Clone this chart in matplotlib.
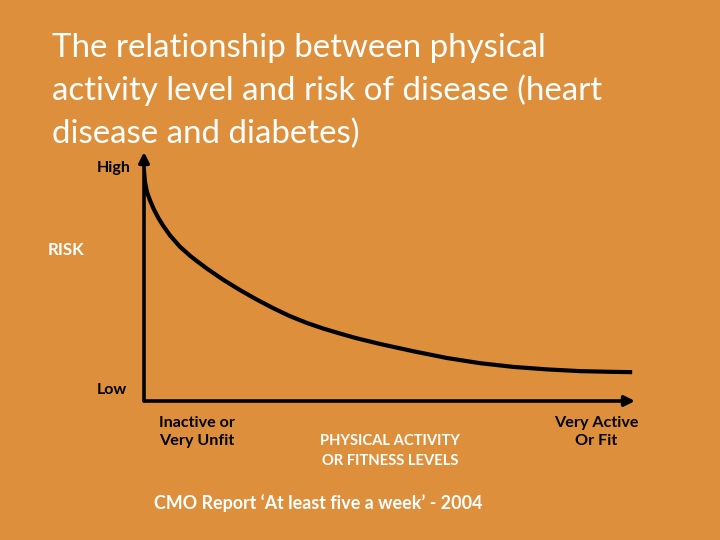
import matplotlib.pyplot as plt
import numpy as np

# curve (activity 0-100, risk 0-100)
activity = [0, 0.2, 0.6, 1.2, 2.0, 2.9, 3.9, 5.3, 7.3, 9.4, 10.7, 12.8, 16.2, 19.6,
            23.0, 26.3, 29.7, 33.1, 36.5, 39.9, 43.3, 48.1, 54.8, 61.6, 68.4, 75.2,
            82.0, 88.8, 95.6, 99.0]
risk = [92.4, 88.0, 84.0, 80.7, 77.0, 73.6, 70.4, 66.5, 62.0, 58.3, 56.3, 53.2, 48.6, 44.5,
        40.7, 37.3, 34.1, 31.4, 29.1, 27.1, 25.2, 22.9, 20.0, 17.3, 15.2, 13.7,
        12.7, 12.0, 11.7, 11.6]

title_lines = ["The relationship between physical",
               "activity level and risk of disease (heart",
               "disease and diabetes)"]

bg = "#DE8F3B"
W, H = 720, 540

plt.rcParams["font.family"] = ["Lato", "DejaVu Sans"]

fig = plt.figure(figsize=(7.2, 5.4), dpi=100, facecolor=bg)


def fx(px):
    return px / W


def fy(py):
    return 1 - py / H


# axes box in pixels: left 144, right 635, bottom 401, top 152
ax = fig.add_axes([fx(144), fy(401), (635 - 144) / W, (401 - 152) / H])
ax.set_facecolor(bg)
ax.set_xlim(0, 100)
ax.set_ylim(0, 100)
ax.axis("off")

ax.plot(activity, risk, color="black", lw=3.0, solid_joinstyle="round", zorder=3)

arrow = dict(arrowstyle="-|>,head_length=0.6,head_width=0.3", color="black",
             lw=2.6, shrinkA=0, shrinkB=0)
ax.annotate("", xy=(0, 100), xytext=(0, 0), arrowprops=arrow, annotation_clip=False)
ax.annotate("", xy=(100, 0), xytext=(0, 0), arrowprops=arrow, annotation_clip=False)

for i, line in enumerate(title_lines):
    fig.text(fx(52), fy(57 + 43 * i), line, color="white", fontsize=23.8,
             ha="left", va="baseline")

fig.text(fx(114), fy(168), "High", fontsize=11.5, fontweight="bold", ha="center", va="center")
fig.text(fx(112), fy(390), "Low", fontsize=11.5, fontweight="bold", ha="center", va="center")
fig.text(fx(66), fy(250), "RISK", fontsize=12.2, fontweight="bold", color="white",
         ha="center", va="center")
fig.text(fx(197), fy(432), "Inactive or\nVery Unfit", fontsize=11.6, fontweight="bold",
         ha="center", va="center", linespacing=1.4)
fig.text(fx(596), fy(432), "Very Active\nOr Fit", fontsize=11.6, fontweight="bold",
         ha="center", va="center", linespacing=1.4)
fig.text(fx(390), fy(451), "PHYSICAL ACTIVITY\nOR FITNESS LEVELS", fontsize=10.6,
         fontweight="bold", color="white", ha="center", va="center", linespacing=1.5)
fig.text(fx(318), fy(503), "CMO Report \u2018At least five a week\u2019 - 2004", fontsize=12.9,
         fontweight="bold", color="white", ha="center", va="center")

fig.savefig("out.png", dpi=100, facecolor=bg)
